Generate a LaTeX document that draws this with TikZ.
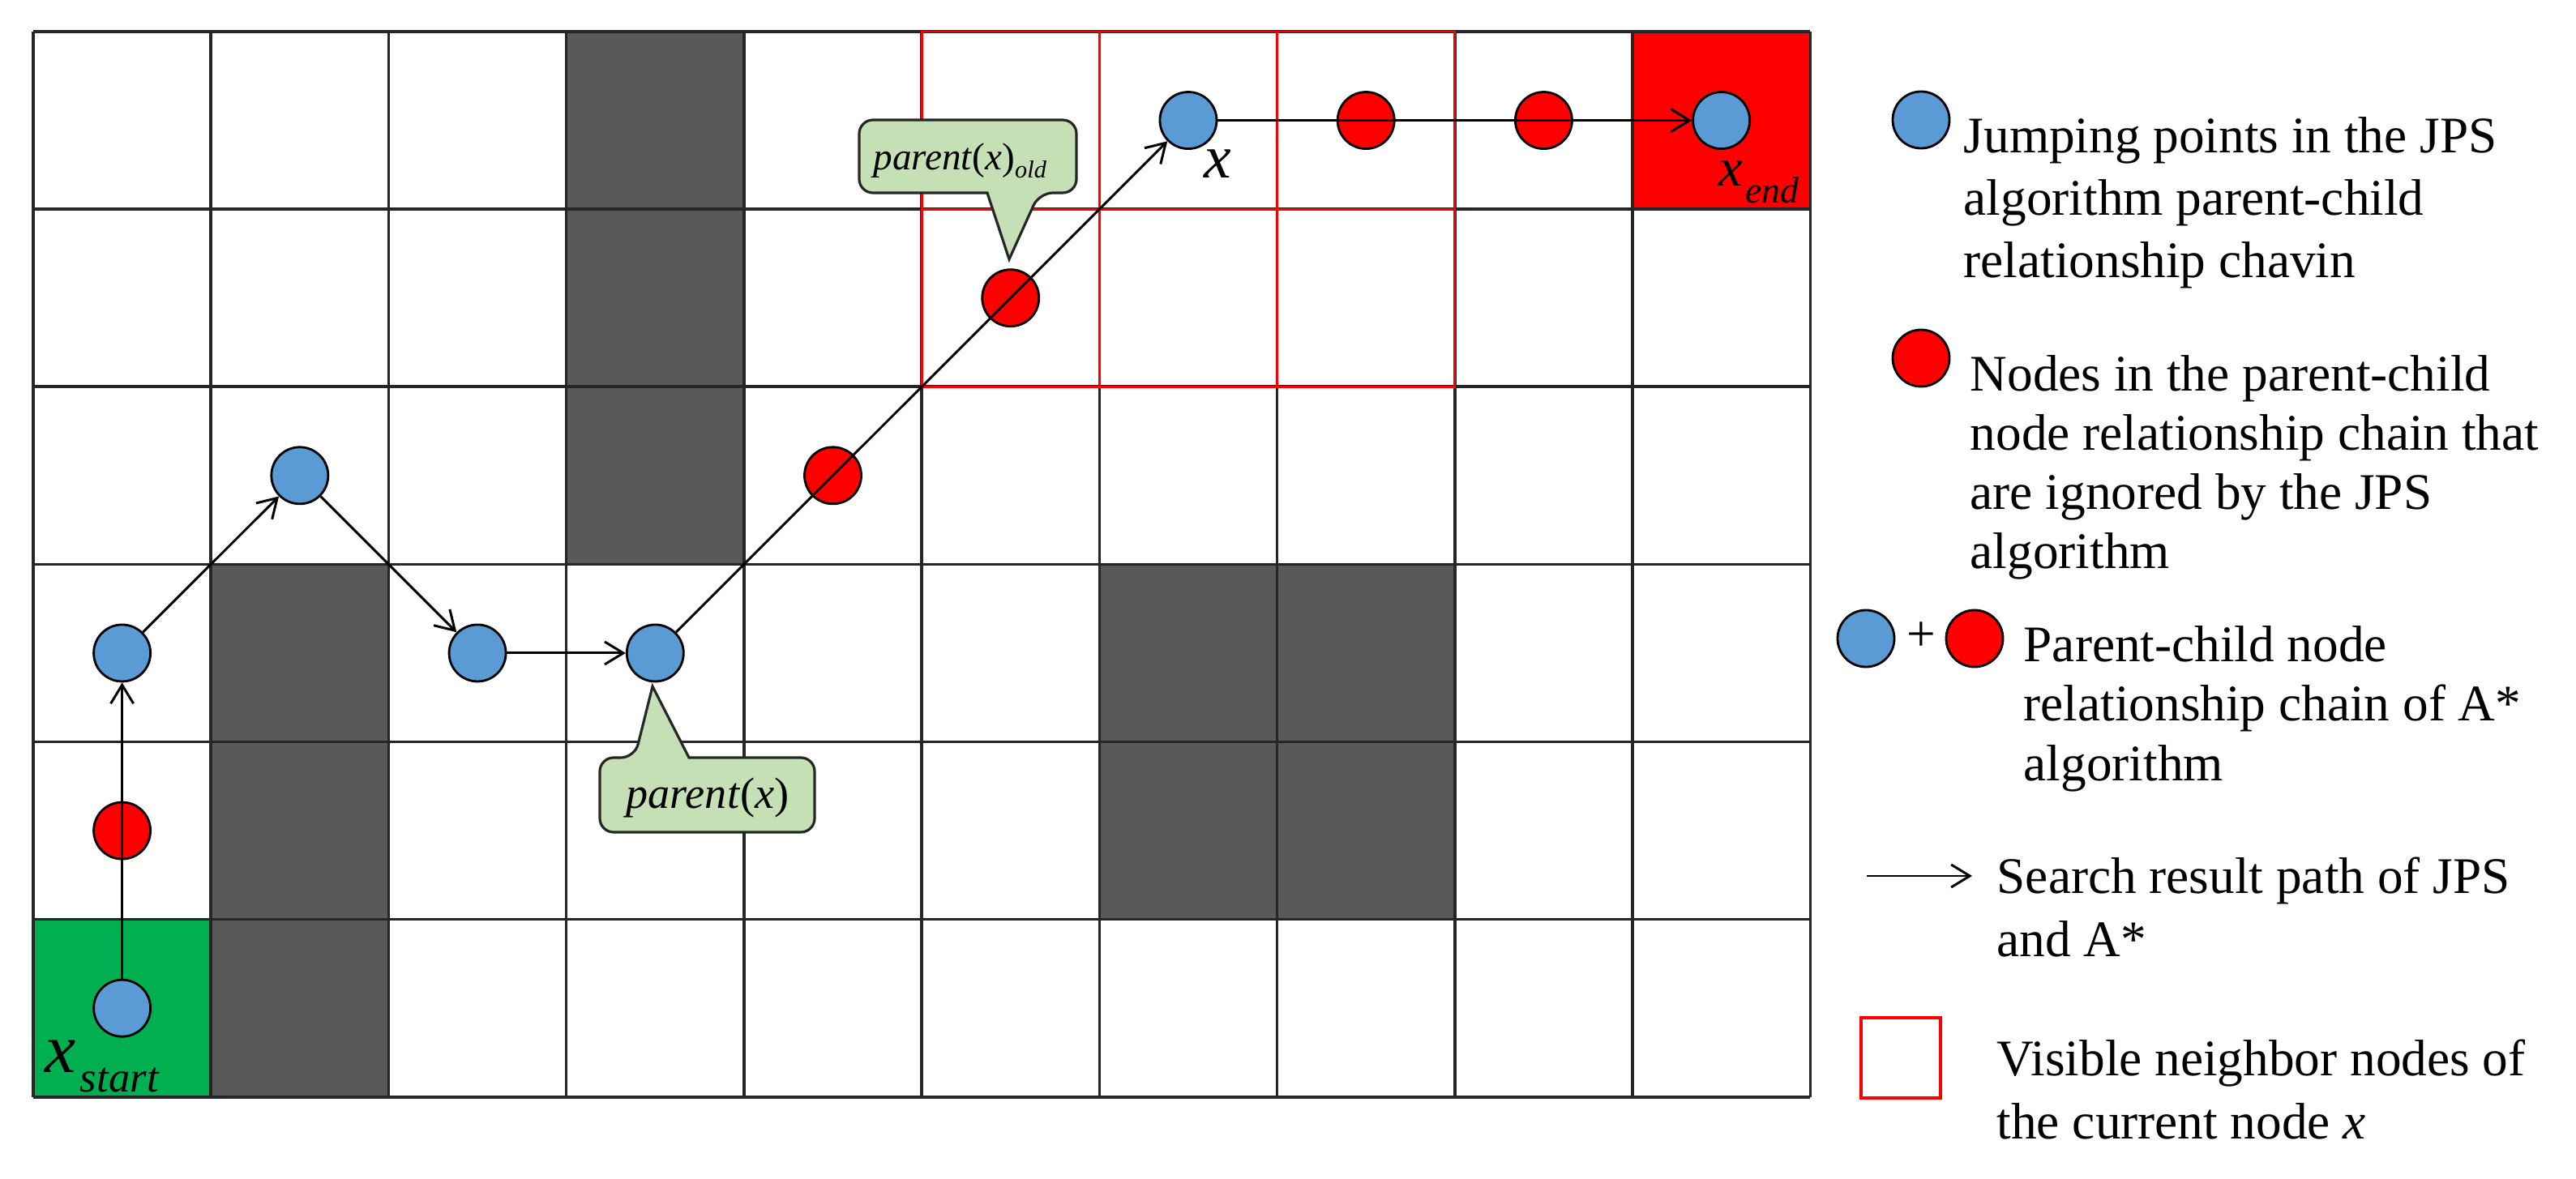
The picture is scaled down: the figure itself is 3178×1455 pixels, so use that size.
\documentclass[tikz,border=0pt]{standalone}
\usepackage{fontspec}
\setmainfont{Liberation Serif}
\usetikzlibrary{arrows.meta,shapes.geometric}
\definecolor{jblue}{HTML}{5B9BD5}
\definecolor{jred}{HTML}{FF0000}
\definecolor{jgreen}{HTML}{00B050}
\definecolor{jgray}{HTML}{595959}
\definecolor{jcall}{HTML}{C5E0B4}
\begin{document}
\begin{tikzpicture}[x=0.01cm,y=-0.01cm,
  gridline/.style={line width=1pt, draw=black!85},
  redline/.style={line width=0.8pt, draw=jred},
  jump/.style={circle, draw=black, line width=0.8pt, fill=jblue, minimum size=0.7cm, inner sep=0},
  ign/.style={jump, fill=jred},
  jpath/.style={line width=0.85pt, -{Straight Barb[length=2.3mm,width=2.8mm]}},
  callout/.style={draw=black!85, line width=0.9pt, fill=jcall, rounded corners=1.7mm},
  legtext/.style={anchor=base west, inner sep=0, align=left},
  lab/.style={inner sep=0, anchor=base west}
]
\useasboundingbox[fill=white] (0,0) rectangle (3178,1455);
\begin{scope}[shift={(41,39)}, x=2.191cm, y=-2.19cm]
  \fill[jgray] (3,0) rectangle (4,3);
  \fill[jgray] (1,3) rectangle (2,6);
  \fill[jgray] (6,3) rectangle (8,5);
  \fill[jgreen] (0,5) rectangle (1,6);
  \fill[jred] (9,0) rectangle (10,1);
  \foreach \i in {0,...,10} \draw[gridline] (\i,0) -- (\i,6);
  \foreach \j in {0,...,6} \draw[gridline] (0,\j) -- (10,\j);
  \draw[redline] (5,0) rectangle (8,2) (6,0) -- (6,2) (7,0) -- (7,2) (5,1) -- (8,1);
  % nodes ignored by JPS
  \node[ign] (r04) at (0.5,4.5) {};
  \node[ign] (r42) at (4.5,2.5) {};
  \node[ign] (r51) at (5.5,1.5) {};
  \node[ign] (r70) at (7.5,0.5) {};
  \node[ign] (r80) at (8.5,0.5) {};
  % jump points
  \node[jump] (b05) at (0.5,5.5) {};
  \node[jump] (b03) at (0.5,3.5) {};
  \node[jump] (b12) at (1.5,2.5) {};
  \node[jump] (b23) at (2.5,3.5) {};
  \node[jump] (b33) at (3.5,3.5) {};
  \node[jump] (b60) at (6.5,0.5) {};
  \node[jump] (b90) at (9.5,0.5) {};
  % path
  \draw[jpath] (b05) -- (b03);
  \draw[jpath] (b03) -- (b12);
  \draw[jpath] (b12) -- (b23);
  \draw[jpath] (b23) -- (b33);
  \draw[jpath] (b33) -- (b60);
  \draw[jpath] (b60) -- (b90);
\end{scope}
% labels
\node[lab, font=\fontsize{24.5}{25}\selectfont\itshape] (xstart) at (55,1323) {x\kern0.5mm\raisebox{-2.4mm}{\fontsize{15}{15}\selectfont start}};
\node[lab, font=\fontsize{19}{20}\selectfont\itshape] (xend) at (2120,230) {x\kern0.3mm\raisebox{-2mm}{\fontsize{13}{13}\selectfont end}};
\node[lab, font=\fontsize{21.5}{22}\selectfont\itshape] (xlab) at (1485,220) {x};
% callouts
\draw[callout] (1194,148) -- (1328,148) -- (1328,238) -- (1282,238) [sharp corners] -- (1245,320) -- (1218,238) [rounded corners=1.7mm] -- (1060,238) -- (1060,148) -- cycle;
\node[lab, font=\fontsize{13.4}{14}\selectfont] (pold) at (1077,210) {\textit{parent}(\textit{x})\raisebox{-0.9mm}{\fontsize{8.6}{9}\selectfont\textit{old}}};
\draw[callout] (872,935) -- (1005,935) -- (1005,1027) -- (740,1027) -- (740,935) -- (783,935) [sharp corners] -- (805,847) -- (850,935) [rounded corners=1.7mm] -- cycle;
\node[lab, font=\fontsize{15.4}{16}\selectfont] (pnew) at (772,997) {\textit{parent}(\textit{x})};
% legend
\node[jump] (lg1) at (2370,148) {};
\node[legtext, font=\fontsize{18}{22}\selectfont] (lt1) at (2422,343) {Jumping points in the JPS\\algorithm parent-child\\relationship chavin};
\node[ign] (lg2) at (2370,442) {};
\node[legtext, font=\fontsize{18}{20.8}\selectfont] (lt2) at (2430,702) {Nodes in the parent-child\\node relationship chain that\\are ignored by the JPS\\algorithm};
\node[jump] (lg3a) at (2302,788) {};
\node[inner sep=0, font=\fontsize{18}{18}\selectfont] (plus) at (2370,786) {+};
\node[ign] (lg3b) at (2436,788) {};
\node[legtext, font=\fontsize{18}{20.8}\selectfont] (lt3) at (2496,963) {Parent-child node\\relationship chain of A*\\algorithm};
\coordinate (la1) at (2303,1081);
\coordinate (la2) at (2433,1081);
\draw[jpath] (la1) -- (la2);
\node[legtext, font=\fontsize{18}{22}\selectfont] (lt4) at (2463,1180) {Search result path of JPS\\and A*};
\node[draw=jred, line width=0.9pt, minimum width=0.98cm, minimum height=0.99cm, inner sep=0] (lg5) at (2345,1305.5) {};
\node[legtext, font=\fontsize{18}{22}\selectfont] (lt5) at (2463,1405) {Visible neighbor nodes of\\the current node \textit{x}};
\end{tikzpicture}
\end{document}
